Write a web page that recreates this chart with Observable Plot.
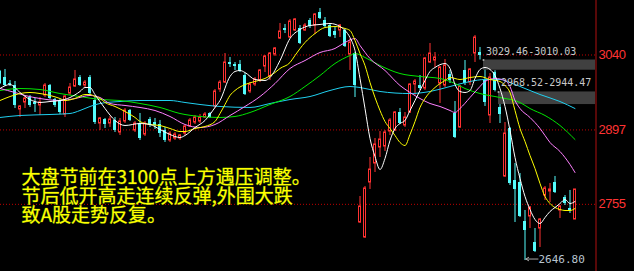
<!DOCTYPE html>
<html><head><meta charset="utf-8">
<script src="https://cdn.jsdelivr.net/npm/d3@7"></script>
<script src="https://cdn.jsdelivr.net/npm/@observablehq/plot@0.6"></script>
<style>
html,body{margin:0;padding:0;background:#000;overflow:hidden;}
#chart svg{display:block;}
#chart svg g[aria-label="y-axis tick label"] text{letter-spacing:-0.5px;}
</style></head><body><div id="chart"></div>
<script>
// ---- candle data (index = trading day) ----
const opens = [
3007.6,2996.1,2984.6,2980.8,2935.0,2948.4,2957.9,2948.4,2942.7,2961.8,
2980.8,2954.1,2952.2,2925.5,2965.5,2978.9,2996.1,2980.8,2996.1,2952.2,
2908.3,2915.9,2908.3,2914.1,2891.1,2912.1,2933.1,2895.0,2908.3,2887.3,
2915.9,2910.2,2906.4,2895.0,2875.9,2879.7,2879.7,2889.2,2902.6,2910.2,
2912.1,2919.8,2927.4,2940.8,2973.2,2986.5,3024.7,3020.9,3020.9,2999.9,
2969.4,2982.7,2990.4,3017.1,2998.0,3040.0,3070.5,3089.6,3072.4,3085.8,
3089.6,3085.8,3104.9,3095.3,3120.1,3104.9,3095.3,3083.9,3085.8,3085.8,
3040.0,3041.9,2719.4,2690.8,2795.7,2832.0,2862.5,2864.4,2893.0,2895.0,
2929.3,2904.5,2929.3,2982.7,2980.8,2975.1,3024.7,3028.5,2984.6,2980.8,
3001.8,2927.4,2900.7,3009.5,2986.5,3041.9,3043.8,2990.4,2923.6,3005.6,
2938.9,2807.2,2898.8,2799.5,2795.7,2721.3,2730.8,2681.2,2707.9,2770.9,
2778.6,2795.7,2742.3,2767.1,2746.1,2725.1];
const highs = [
3009.5,3011.4,2990.4,2988.5,2942.7,2959.8,2961.8,2956.0,2957.9,2984.6,
2982.7,2956.0,2954.1,2961.8,2984.6,3009.5,2999.9,2990.4,2999.9,2957.9,
2919.8,2917.9,2921.7,2919.8,2917.9,2936.9,2935.0,2912.1,2927.4,2912.1,
2919.8,2917.9,2914.1,2900.7,2893.0,2891.1,2887.3,2904.5,2917.9,2923.6,
2925.5,2929.3,2929.3,2973.2,2990.4,3041.9,3034.3,3024.7,3028.5,3003.7,
2986.5,2996.1,3011.4,3038.1,3043.8,3053.4,3099.2,3097.3,3106.8,3108.7,
3095.3,3099.2,3108.7,3118.2,3127.8,3110.6,3099.2,3091.5,3097.3,3087.7,
3070.5,3043.8,2769.0,2788.1,2843.4,2879.7,2893.0,2895.0,2917.9,2931.2,
2936.9,2929.3,2984.6,2992.3,2999.9,3034.3,3061.0,3043.8,3017.1,3030.4,
3009.5,2950.3,2980.8,3028.5,3013.3,3076.3,3053.4,3010.03,3003.7,3009.0,
2944.47,2910.2,2900.7,2832.0,2812.9,2742.3,2749.9,2707.9,2727.0,2788.1,
2793.8,2807.2,2751.8,2770.9,2780.5,2782.4];
const lows = [
2982.7,2978.9,2978.9,2936.9,2919.8,2936.9,2938.9,2929.3,2923.6,2957.9,
2954.1,2938.9,2925.5,2919.8,2961.8,2977.0,2978.9,2977.0,2961.8,2906.4,
2895.0,2898.8,2900.7,2891.1,2885.4,2908.3,2912.1,2891.1,2875.9,2883.5,
2900.7,2896.9,2881.6,2872.1,2872.1,2875.9,2875.9,2885.4,2900.7,2906.4,
2908.3,2917.9,2917.9,2936.9,2967.5,2984.6,3015.2,3009.5,3005.6,2961.8,
2965.5,2978.9,2986.5,3005.6,2990.4,3036.2,3068.6,3080.0,3070.5,3083.9,
3059.1,3083.9,3089.6,3078.1,3106.8,3091.5,3072.4,3070.5,3072.4,3053.4,
3009.5,2957.9,2717.5,2688.9,2782.4,2814.8,2843.4,2854.9,2885.4,2893.0,
2906.4,2900.7,2927.4,2961.8,2971.3,2971.3,3022.8,3015.2,2946.5,2977.0,
2984.6,2879.7,2898.8,2980.8,2980.8,3024.7,3029.46,2940.8,2908.3,2968.52,
2908.3,2805.3,2790.0,2719.4,2728.9,2646.8,2707.9,2662.1,2671.7,2761.4,
2757.5,2774.7,2727.0,2751.8,2736.6,2725.1];
const closes = [
2984.6,2980.8,2982.7,2942.7,2940.8,2956.0,2942.7,2944.6,2948.4,2980.8,
2956.0,2942.7,2929.3,2959.8,2977.0,2992.3,2980.8,2986.5,2965.5,2910.2,
2917.9,2906.4,2915.9,2895.0,2912.1,2933.1,2914.1,2908.3,2879.7,2908.3,
2904.5,2904.5,2889.2,2875.9,2889.2,2887.3,2885.4,2902.6,2914.1,2919.8,
2919.8,2925.5,2919.8,2969.4,2986.5,3024.7,3020.9,3017.1,3007.6,2963.6,
2982.7,2992.3,3009.5,3036.2,3041.9,3051.5,3083.9,3085.8,3103.0,3106.8,
3061.0,3095.3,3093.4,3116.3,3108.7,3093.4,3074.3,3076.3,3095.3,3055.3,
3062.9,2980.8,2749.9,2784.3,2820.5,2868.3,2877.8,2891.1,2914.1,2929.3,
2908.3,2919.8,2982.7,2988.5,2975.1,3032.3,3041.9,3034.3,3015.2,3019.0,
2990.4,2881.6,2978.9,2984.6,3011.4,3072.4,3038.1,2948.4,2996.1,2971.3,
2925.5,2889.2,2793.8,2782.4,2730.8,2704.1,2748.0,2664.1,2725.1,2784.3,
2782.4,2776.6,2749.9,2755.6,2740.4,2782.4];

// ---- moving averages (index, value) ----
const ma5Idx = [0,2,4,6,8,10,12,14,16,17,18,19,21,23,25,28,30,32,34,36,37,39,41,43,44,46,47,48,49,51,53,54,56,58,60,62,64,66,68,69,70,71,72,73,74,75,76,77,78,79,80,81,82,83,84,85,86,87,89,90,91,92,93,94,95,96,97,98,99,100,101,102,103,104,105,106,107,108,109,110,111,112,113,114,115];
const ma5Val = [2975.1,2982.7,2967.5,2954.1,2948.4,2950.3,2952.2,2957.9,2969.4,2977.0,2977.0,2963.6,2936.9,2914.1,2904.5,2908.3,2906.4,2896.9,2887.3,2881.6,2885.4,2900.7,2914.1,2938.9,2952.2,2998.0,3007.6,3009.5,3005.6,2992.3,2990.4,2996.1,3028.5,3070.5,3087.7,3095.3,3097.3,3099.2,3093.4,3085.8,3072.4,3047.6,2994.2,2936.9,2879.7,2845.3,2820.5,2841.5,2875.9,2898.8,2908.3,2914.1,2933.1,2952.2,2971.3,2990.4,3007.6,3015.2,3022.8,3013.3,2982.7,2969.4,2967.5,2971.3,2994.2,3011.4,3015.2,3011.4,2999.9,2975.1,2940.8,2895.0,2843.4,2803.4,2769.0,2744.2,2725.1,2717.5,2728.9,2740.4,2748.0,2755.6,2763.3,2755.6,2759.5];
const ma10Idx = [0,2,4,6,8,10,12,13,15,17,18,19,20,21,23,25,27,28,30,32,34,36,37,39,41,43,44,45,46,47,49,51,53,55,56,58,59,61,63,65,67,69,70,71,72,73,74,75,76,77,78,79,80,81,82,83,84,85,87,89,90,92,94,96,98,100,101,102,103,104,105,106,107,108,109,110,111,112,113,114,115];
const ma10Val = [2952.2,2959.8,2965.5,2967.5,2965.5,2961.8,2956.0,2952.2,2956.0,2963.6,2963.6,2959.8,2956.0,2948.4,2940.8,2931.2,2919.8,2912.1,2906.4,2904.5,2898.8,2893.0,2893.0,2898.8,2902.6,2912.1,2927.4,2944.6,2961.8,2971.3,2982.7,2988.5,2994.2,3005.6,3013.3,3024.7,3038.1,3062.9,3080.0,3091.5,3093.4,3089.6,3085.8,3066.7,3041.9,3019.0,2986.5,2957.9,2933.1,2912.1,2898.8,2885.4,2872.1,2866.3,2887.3,2912.1,2938.9,2956.0,2977.0,2990.4,2996.1,2992.3,2996.1,2998.0,2992.3,2988.5,2980.8,2967.5,2933.1,2898.8,2874.0,2847.2,2822.4,2793.8,2769.0,2755.6,2748.0,2744.2,2742.3,2742.3,2746.1];
const ma20Idx = [0,3,5,8,12,15,18,20,22,25,28,31,34,37,40,43,46,49,52,55,58,61,64,67,69,71,72,74,77,80,82,84,86,88,90,91,92,94,96,97,99,101,102,103,104,106,108,109,110,112,113,114,115];
const ma20Val = [2975.1,2967.5,2961.8,2956.0,2952.2,2956.0,2961.8,2957.9,2946.5,2942.7,2938.9,2933.1,2921.7,2906.4,2900.7,2906.4,2923.6,2940.8,2959.8,2984.6,3013.3,3028.5,3043.8,3051.5,3062.9,3070.5,3057.2,3032.3,3009.5,2980.8,2967.5,2956.0,2946.5,2940.8,2933.1,2929.3,2936.9,2957.9,2978.9,2988.5,2994.2,2990.4,2978.9,2952.2,2936.9,2919.8,2898.8,2885.4,2872.1,2854.9,2843.4,2830.1,2814.8];
const ma30Idx = [0,4,8,12,16,20,24,28,32,36,40,44,47,50,54,58,61,64,67,70,71,73,76,80,84,88,91,93,96,100,104,106,109,112,115];
const ma30Val = [2971.3,2975.1,2973.2,2965.5,2959.8,2954.1,2952.2,2946.5,2938.9,2927.4,2921.7,2919.8,2921.7,2929.3,2944.6,2959.8,2978.9,2999.9,3022.8,3038.1,3041.9,3034.3,3019.0,3003.7,2998.0,2994.2,2984.6,2975.1,2965.5,2957.9,2948.4,2936.9,2923.6,2904.5,2877.8];
const ma60Idx = [0,4,10,14,16,18,20,24,28,34,37,40,44,50,54,58,62,66,70,72,76,82,86,90,94,97,100,102,105,108,112,115];
const ma60Val = [2919.8,2923.6,2925.5,2927.4,2933.1,2940.8,2946.5,2950.3,2952.2,2952.2,2948.4,2944.6,2940.8,2938.9,2946.5,2954.1,2959.8,2971.3,2978.9,2977.0,2969.4,2965.5,2969.4,2978.9,2988.5,2992.3,2992.3,2986.5,2975.1,2963.6,2950.3,2936.9];

// ---- gaps, ticks, annotation ----
const gapStart = [97, 100];
const gapTop = [3029.46, 2968.52];
const gapBottom = [3010.03, 2944.47];
const yTicks = [2755, 2897, 3040];
const noteLines = ["大盘节前在3100点上方遇压调整。", "节后低开高走连续反弹,外围大跌", "致A股走势反复。"];

// ---- build tables ----
const candles = opens.map((o, i) => ({i, open: o, high: highs[i], low: lows[i], close: closes[i], up: closes[i] >= o}));
const gaps = gapStart.map((s, k) => ({start: s, top: gapTop[k], bottom: gapBottom[k]}));
const series = (idx, vals) => idx.map((i, k) => ({i, v: vals[k]}));
const lowI = d3.minIndex(lows);
const lowPoint = {i: lowI, v: lows[lowI]};

const X_DOMAIN = [0.1, 119.1];
const Y_DOMAIN = [2625.87, 3143.05];
const UP = "#ff3232", DOWN = "#54fcfc";

const chart = Plot.plot({
  width: 634, height: 271,
  marginLeft: 0, marginRight: 39, marginTop: 0, marginBottom: 0,
  style: {background: "#000", color: "#fff", overflow: "visible"},
  x: {domain: X_DOMAIN, axis: null},
  y: {domain: Y_DOMAIN, axis: null},
  color: {type: "identity"},
  marks: [
    Plot.rect(gaps, {x1: d => d.start - 0.3, x2: X_DOMAIN[1], y1: "bottom", y2: "top", fill: "#404040"}),
    Plot.ruleY(yTicks, {stroke: "#c00000", strokeDasharray: "1,2", dy: 0.5}),
    Plot.ruleX([X_DOMAIN[1]], {stroke: "#b01010", dx: 0.5}),
    Plot.ruleX(candles, {x: "i", y1: "low", y2: "high", stroke: d => d.up ? UP : DOWN, strokeWidth: 1}),
    Plot.rect(candles.filter(d => !d.up), {x1: d => d.i - 0.3, x2: d => d.i + 0.3, y1: "open", y2: "close", fill: DOWN}),
    Plot.rect(candles.filter(d => d.up), {x1: d => d.i - 0.2, x2: d => d.i + 0.2, y1: "open", y2: "close", fill: "#000", stroke: UP, strokeWidth: 1}),
    Plot.line(series(ma60Idx, ma60Val), {x: "i", y: "v", stroke: "#20d0f0", strokeWidth: 1, curve: "monotone-x"}),
    Plot.line(series(ma30Idx, ma30Val), {x: "i", y: "v", stroke: "#00e600", strokeWidth: 1, curve: "monotone-x"}),
    Plot.line(series(ma20Idx, ma20Val), {x: "i", y: "v", stroke: "#ff80ff", strokeWidth: 1, curve: "monotone-x"}),
    Plot.line(series(ma10Idx, ma10Val), {x: "i", y: "v", stroke: "#ffff00", strokeWidth: 1, curve: "monotone-x"}),
    Plot.line(series(ma5Idx, ma5Val), {x: "i", y: "v", stroke: "#ffffff", strokeWidth: 1, curve: "monotone-x"}),
    Plot.dot(gaps, {x: d => d.start - 0.3, y: "top", r: 1, fill: "#aaaaaa"}),
    Plot.text(gaps, {x: d => d.start - 0.3, y: "top", text: d => `${d.top.toFixed(2)}-${d.bottom.toFixed(2)}`,
      dx: 2.5, dy: -5.5, textAnchor: "start", lineAnchor: "bottom", fill: "#c8c8c8", fontSize: 10, fontFamily: "DejaVu Sans Mono"}),
    Plot.arrow([lowPoint], {x1: d => d.i + 2.6, y1: "v", x2: d => d.i + 0.15, y2: "v", stroke: "#a8a8a8", strokeWidth: 1, headLength: 5, dy: -1.5}),
    Plot.text([lowPoint], {x: d => d.i + 2.7, y: "v", text: d => d.v.toFixed(2), dy: -1.5, textAnchor: "start", lineAnchor: "middle",
      fill: "#b8c4d0", fontSize: 11, fontFamily: "DejaVu Sans Mono"}),
    Plot.text([noteLines.join("\n")], {x: 4.3, y: 2769.0, text: d => d, textAnchor: "start", lineAnchor: "middle", lineHeight: 1.0,
      fontSize: 19, fontFamily: "Noto Sans CJK SC", fill: "#ffff00", stroke: "#5f8000", strokeWidth: 0.7, paintOrder: "stroke"}),
    Plot.axisY(yTicks, {anchor: "right", tickSize: 0, tickPadding: 3, tickFormat: d => String(d), label: null,
      fill: "#ff3333", fontSize: 13, fontFamily: "Liberation Sans"})
  ]
});
document.getElementById("chart").appendChild(chart);
</script>
</body></html>
